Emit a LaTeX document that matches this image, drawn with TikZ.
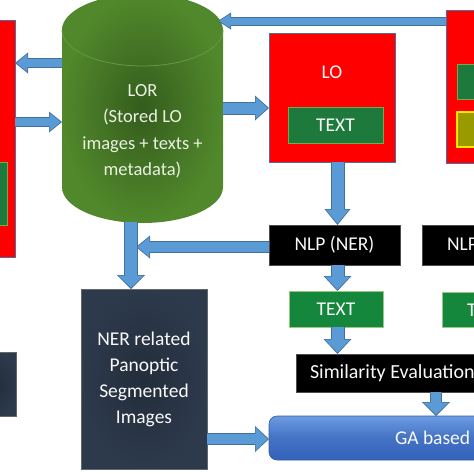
\documentclass[tikz,border=0pt]{standalone}
\usepackage{fontspec}
\setmainfont{Carlito}
\usetikzlibrary{arrows.meta,calc}
\definecolor{arrf}{HTML}{5B9BD5}
\definecolor{arrb}{HTML}{41719C}
\definecolor{redc}{HTML}{FF0000}
\definecolor{bordc}{HTML}{4F6E9C}
\definecolor{gdark}{HTML}{1D7A3C}
\definecolor{glight}{HTML}{70AD47}
\definecolor{gmid}{HTML}{14873D}
\definecolor{olivec}{HTML}{999900}
\definecolor{yellowc}{HTML}{FFE600}
\definecolor{cyldark}{HTML}{345C1D}
\definecolor{cyllight}{HTML}{51882B}
\definecolor{cylrim}{HTML}{66984A}
\definecolor{cyltxt}{HTML}{EAF2E2}
\definecolor{navy}{HTML}{232D3B}
\definecolor{navyedge}{HTML}{2D3A4C}
\definecolor{gatop}{HTML}{6C9BE2}
\definecolor{gamid}{HTML}{4472C4}
\definecolor{gabot}{HTML}{3362BC}
\newcommand{\blockarr}[5]{%
  \pgfmathsetmacro{\myOw}{#3+2}%
  \pgfmathsetmacro{\myHw}{#4+3}%
  \pgfmathsetmacro{\myHl}{#5+2}%
  \draw[draw=arrb, line width=\myOw pt, -{Triangle[width=\myHw pt, length=\myHl pt, line width=0pt]}] #1 -- #2;
  \draw[draw=arrf, line width=#3pt, shorten >=1.4pt, -{Triangle[width=#4pt, length=#5pt, line width=0pt]}] #1 -- #2;
}
\begin{document}
\begin{tikzpicture}[x=1pt,y=-1pt,
  box/.style={draw, line width=0.9pt, inner sep=0pt, outer sep=0pt, text=white!95!gray,
    font=\fontsize{19.5}{23}\selectfont},
  redbox/.style={box, fill=redc, draw=bordc},
  gtext/.style={box, fill=gdark, draw=glight},
  gtext2/.style={box, fill=gmid, draw=glight!70!white},
  blkbox/.style={box, fill=black, draw=black!70!white},
  navybox/.style={box, inner color=navy, outer color=navyedge, draw=gray!70!navy, align=center,
    font=\fontsize{19.5}{26}\selectfont},
  lbl/.style={inner sep=0pt, outer sep=0pt, text=white!95!gray, font=\fontsize{19.5}{23}\selectfont},
  cyltext/.style={inner sep=0pt, align=center, text=cyltxt, font=\fontsize{18.5}{26.5}\selectfont}
]
\useasboundingbox (0,0) rectangle (474,474);
\clip (0,0) rectangle (474,474);
\fill[white] (0,0) rectangle (474,474);

% cylinder LOR
\shade[inner color=cyldark, outer color=cyllight] (62,30) -- (62,187)
  arc[start angle=180, end angle=0, x radius=80.5, y radius=36] -- (223,30)
  arc[start angle=0, end angle=-180, x radius=80.5, y radius=36] -- cycle;
\draw[cylrim, line width=0.8pt] (62,30) arc[start angle=180, end angle=0, x radius=80.5, y radius=36];
\node[minimum width=161pt, minimum height=193pt, inner sep=0pt, outer sep=0pt] (cyl) at (142.5,126.5) {};
\node[cyltext] (lortext) at (142.5,131.5) {LOR\\(Stored LO\\images + texts +\\metadata)};

% left column (cut off)
\node[redbox, minimum width=35pt, minimum height=237pt] (lred) at (-2.5,138.5) {};
\node[gtext, minimum width=27pt, minimum height=63pt] (lgreen) at (-6.5,193.5) {};
\node[navybox, minimum width=36pt, minimum height=64pt] (ldark) at (-2,384) {};

% LO box
\node[redbox, minimum width=126pt, minimum height=129pt] (lo) at (332,97.5) {};
\node[lbl] (lolbl) at (332,72) {LO};
\node[gtext, minimum width=95pt, minimum height=36pt] (lotext) at (335.5,125) {TEXT};

% right column (cut off)
\node[redbox, minimum width=124pt, minimum height=153pt] (rred) at (508,86.5) {};
\node[gtext, minimum width=113pt, minimum height=35pt] (rgreen) at (513.5,81.5) {};
\node[box, fill=olivec, draw=yellowc, line width=1.2pt, minimum width=113pt, minimum height=35pt] (rolive) at (513.5,129.5) {};

% NLP boxes
\node[blkbox, minimum width=131pt, minimum height=40pt] (nlp) at (334.5,245) {NLP (NER)};
\node[blkbox, minimum width=138pt, minimum height=40pt] (rnlp) at (491,245) {};
\node[lbl, anchor=west] (rnlpt) at (447,245) {NLP (NER)};

% TEXT boxes
\node[gtext2, minimum width=94pt, minimum height=36pt] (txt2) at (336,309) {TEXT};
\node[gtext2, minimum width=118pt, minimum height=35pt] (rtxt) at (501,309.5) {};
\node[lbl, anchor=west] (rtxtt) at (467,310) {TEXT};

% Similarity evaluation
\node[blkbox, minimum width=264pt, minimum height=38pt] (sim) at (428,373) {};
\node[lbl, anchor=west, font=\fontsize{20}{24}\selectfont] (simt) at (310,373) {Similarity Evaluation};

% GA box
\node[box, draw=gamid!80!black, line width=0.6pt, rounded corners=8pt, top color=gatop, bottom color=gabot,
  middle color=gamid, minimum width=291pt, minimum height=44pt] (ga) at (414.5,438) {};
\node[lbl, anchor=west] (gat) at (395,438) {GA based};

% NER box
\node[navybox, minimum width=126pt, minimum height=180pt] (ner) at (144,379)
  {NER related\\Panoptic\\Segmented\\Images};

% helper coordinates
\coordinate (r1) at (0,63);
\coordinate (r2) at (0,122);
\coordinate (t3) at (218,21);
\coordinate (r4) at (0,108);
\coordinate (c9) at (337.5,0);
\coordinate (t6) at (136,247);
\coordinate (c7) at (131,222);
\coordinate (r8) at (0,439);
\coordinate (c11) at (436,0);

% arrows
\blockarr{(cyl.west |- r1)}{(lred.east |- r1)}{8}{18}{11}
\blockarr{(lred.east |- r2)}{(cyl.west |- r2)}{8}{18}{11}
\blockarr{(rred.west |- t3)}{(t3)}{7}{14}{11}
\blockarr{(cyl.east |- r4)}{(lo.west |- r4)}{11}{22}{12}
\blockarr{(lo.south -| c9)}{(nlp.north -| c9)}{12}{23}{14}
\blockarr{(nlp.west |- t6)}{(t6)}{10}{20}{12}
\blockarr{(c7)}{(ner.north -| c7)}{12}{25}{12}
\blockarr{(ner.east |- r8)}{(ga.west |- r8)}{10}{23}{12}
\blockarr{(nlp.south -| c9)}{(txt2.north -| c9)}{12}{25}{13}
\blockarr{(txt2.south -| c9)}{(sim.north -| c9)}{12}{25}{13}
\blockarr{(sim.south -| c11)}{(ga.north -| c11)}{10}{25}{12}
\end{tikzpicture}
\end{document}
